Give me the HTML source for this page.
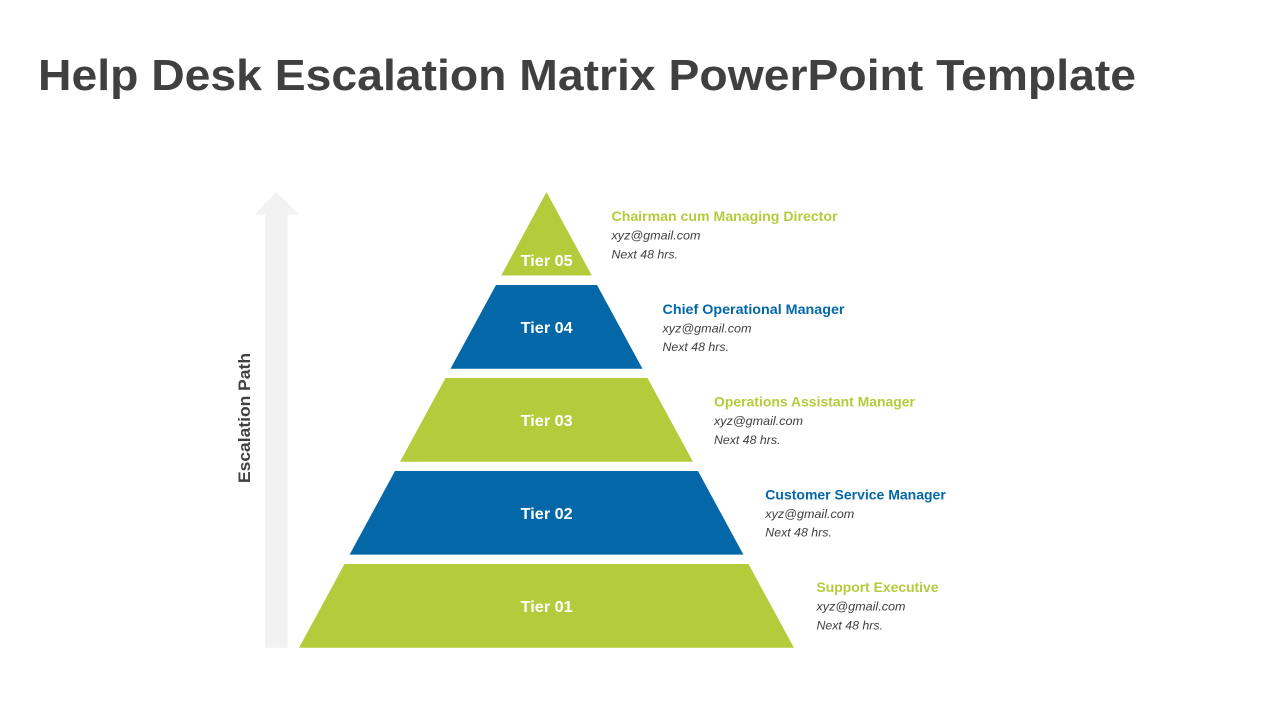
<!DOCTYPE html>
<html>
<head>
<meta charset="utf-8">
<style>
  html,body{margin:0;padding:0;background:#ffffff;}
  body{width:1280px;height:720px;overflow:hidden;}
  svg{display:block;}
  .t{font-family:"Liberation Sans",Arial,sans-serif;}
</style>
</head>
<body>
<svg width="1280" height="720" viewBox="0 0 1280 720" xmlns="http://www.w3.org/2000/svg">
  <rect width="1280" height="720" fill="#ffffff"/>

  <!-- Title -->
  <text class="t" x="38" y="90" font-size="44" font-weight="bold" fill="#404040" textLength="1098" lengthAdjust="spacingAndGlyphs">Help Desk Escalation Matrix PowerPoint Template</text>

  <!-- Escalation arrow -->
  <polygon points="276.5,192 299,214.5 287.7,214.5 287.7,647.8 265,647.8 265,214.5 254.5,214.5" fill="#f2f2f2"/>
  <text class="t" transform="translate(250,418) rotate(-90)" text-anchor="middle" font-size="16.5" font-weight="bold" fill="#404040" textLength="130" lengthAdjust="spacingAndGlyphs">Escalation Path</text>

  <!-- Pyramid -->
  <polygon points="546.5,192 591.8,275.5 501.2,275.5" fill="#b4cc3c"/>
  <polygon points="496,285 597,285 642.5,368.8 450.5,368.8" fill="#0467a8"/>
  <polygon points="445.5,378 647.5,378 693,461.8 400,461.8" fill="#b4cc3c"/>
  <polygon points="395,471 698,471 743.4,554.6 349.6,554.6" fill="#0467a8"/>
  <polygon points="344.5,564 748.5,564 794,647.8 299,647.8" fill="#b4cc3c"/>

  <!-- Tier labels -->
  <g class="t" font-size="16" font-weight="bold" fill="#ffffff" text-anchor="middle">
    <text x="546.7" y="266" textLength="52" lengthAdjust="spacingAndGlyphs">Tier 05</text>
    <text x="546.7" y="333" textLength="52" lengthAdjust="spacingAndGlyphs">Tier 04</text>
    <text x="546.7" y="426" textLength="52" lengthAdjust="spacingAndGlyphs">Tier 03</text>
    <text x="546.7" y="519" textLength="52" lengthAdjust="spacingAndGlyphs">Tier 02</text>
    <text x="546.7" y="612" textLength="52" lengthAdjust="spacingAndGlyphs">Tier 01</text>
  </g>

  <!-- Side descriptions -->
  <g class="t">
    <!-- Tier 05 -->
    <text x="611.5" y="221" font-size="13.5" font-weight="bold" fill="#b4cc3c" textLength="226" lengthAdjust="spacingAndGlyphs">Chairman cum Managing Director</text>
    <text x="611.5" y="239.5" font-size="12" font-style="italic" fill="#404040" textLength="89" lengthAdjust="spacingAndGlyphs">xyz@gmail.com</text>
    <text x="611.5" y="258.3" font-size="12" font-style="italic" fill="#404040" textLength="66.5" lengthAdjust="spacingAndGlyphs">Next 48 hrs.</text>

    <!-- Tier 04 -->
    <text x="662.5" y="313.8" font-size="13.5" font-weight="bold" fill="#0467a8" textLength="182" lengthAdjust="spacingAndGlyphs">Chief Operational Manager</text>
    <text x="662.5" y="332.3" font-size="12" font-style="italic" fill="#404040" textLength="89" lengthAdjust="spacingAndGlyphs">xyz@gmail.com</text>
    <text x="662.5" y="351.1" font-size="12" font-style="italic" fill="#404040" textLength="66.5" lengthAdjust="spacingAndGlyphs">Next 48 hrs.</text>

    <!-- Tier 03 -->
    <text x="714" y="406.6" font-size="13.5" font-weight="bold" fill="#b4cc3c" textLength="201" lengthAdjust="spacingAndGlyphs">Operations Assistant Manager</text>
    <text x="714" y="425.1" font-size="12" font-style="italic" fill="#404040" textLength="89" lengthAdjust="spacingAndGlyphs">xyz@gmail.com</text>
    <text x="714" y="443.9" font-size="12" font-style="italic" fill="#404040" textLength="66.5" lengthAdjust="spacingAndGlyphs">Next 48 hrs.</text>

    <!-- Tier 02 -->
    <text x="765.3" y="499.4" font-size="13.5" font-weight="bold" fill="#0467a8" textLength="180.5" lengthAdjust="spacingAndGlyphs">Customer Service Manager</text>
    <text x="765.3" y="517.9" font-size="12" font-style="italic" fill="#404040" textLength="89" lengthAdjust="spacingAndGlyphs">xyz@gmail.com</text>
    <text x="765.3" y="536.7" font-size="12" font-style="italic" fill="#404040" textLength="66.5" lengthAdjust="spacingAndGlyphs">Next 48 hrs.</text>

    <!-- Tier 01 -->
    <text x="816.5" y="592.2" font-size="13.5" font-weight="bold" fill="#b4cc3c" textLength="122" lengthAdjust="spacingAndGlyphs">Support Executive</text>
    <text x="816.5" y="610.7" font-size="12" font-style="italic" fill="#404040" textLength="89" lengthAdjust="spacingAndGlyphs">xyz@gmail.com</text>
    <text x="816.5" y="629.5" font-size="12" font-style="italic" fill="#404040" textLength="66.5" lengthAdjust="spacingAndGlyphs">Next 48 hrs.</text>
  </g>
</svg>
</body>
</html>
